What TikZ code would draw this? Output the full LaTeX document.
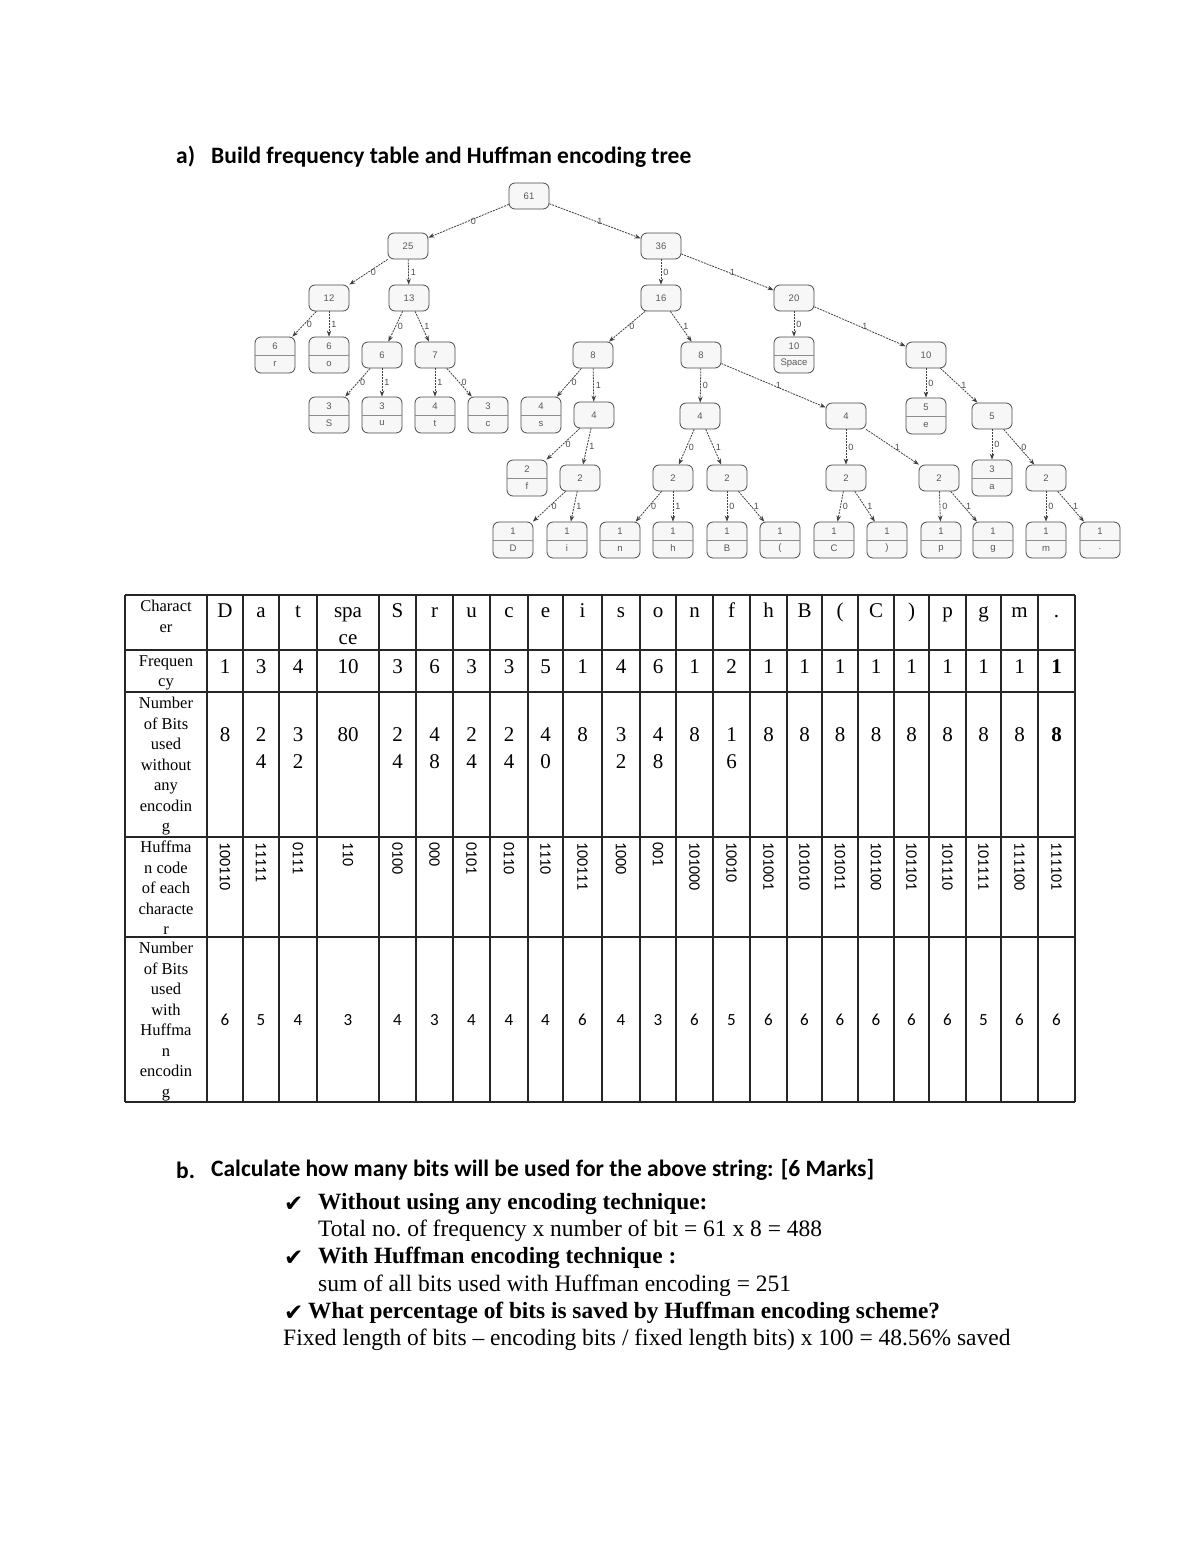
\documentclass[tikz,border=0pt]{standalone}
\usepackage{fontspec}
\setmainfont{Liberation Serif}
\newfontfamily\carlito{Carlito}
\newfontfamily\arialf{Liberation Sans}
\newfontfamily\chkfont{DejaVu Sans}
\usetikzlibrary{arrows.meta}

% leaf of the tree: frequency above, character below
\newcommand{\leafnode}[4]{%
  \node[box, minimum height=36pt] (#1) at (#2) {};
  \draw[divider] (#1.west) -- (#1.east);
  \node[ntxt] at ([yshift=8.5pt]#1.center) {#3};
  \node[ntxt] at ([yshift=-8.5pt]#1.center) {#4};
}
% one column of the table: x, character, frequency, bits, code, bits with code
\newcommand{\tcol}[6]{%
  \node[cell, anchor=north] at (#1,603) {\vphantom{Dd}#2};
  \node[cell] at (#1,667) {#3};
  \node[cell, anchor=north] at (#1,727) {#4};
  \node[code, rotate=-90, anchor=west] at (#1,842) {#5};
  \node[cnum] at (#1,1020) {#6};
}

\begin{document}
\begin{tikzpicture}[
  x=1pt, y=-1pt,
  box/.style={draw=black!70, line width=0.8pt, rounded corners=6pt,
              fill=gray!6, minimum width=40pt, minimum height=26pt, inner sep=0pt,
              font=\arialf\fontsize{9.5}{11}\selectfont, text=black!65},
  divider/.style={draw=black!45, line width=0.7pt},
  ntxt/.style={inner sep=0pt, font=\arialf\fontsize{9.5}{11}\selectfont, text=black!65},
  arr/.style={-{Stealth[length=6pt, width=4.5pt]}, line width=0.8pt, draw=black!75,
              dash pattern=on 2pt off 1pt},
  lbl/.style={inner sep=2pt, font=\arialf\fontsize{9}{10}\selectfont, text=black!70},
  cell/.style={inner sep=0pt, align=center, font=\fontsize{21}{27}\selectfont},
  head/.style={inner sep=0pt, align=center, anchor=north, font=\fontsize{16.5}{20.5}\selectfont},
  code/.style={inner sep=0pt, font=\carlito\fontsize{16}{18}\selectfont},
  cnum/.style={inner sep=0pt, font=\carlito\fontsize{17}{19}\selectfont},
  grid/.style={line width=1.2pt, draw=black!85},
  ttl/.style={inner sep=0pt, anchor=west, font=\carlito\bfseries\fontsize{23.5}{26}\selectfont},
  txt/.style={inner sep=0pt, anchor=west, font=\fontsize{23.5}{26}\selectfont},
  btxt/.style={txt, font=\bfseries\fontsize{23.3}{26}\selectfont},
  chk/.style={inner sep=0pt, anchor=west, font=\chkfont\fontsize{23}{26}\selectfont}
]
  \fill[white] (0,0) rectangle (1200,1553);
  \useasboundingbox (0,0) rectangle (1200,1553);

  % Heading a
  \node[ttl] (ha) at (176,157) {a)};
  \node[ttl] (hat) at (211,157) {Build frequency table and Huffman encoding tree};

  % Tree: inner nodes
  \node[box] (n61) at (529,196) {61};
  \node[box] (n25) at (408,246) {25};
  \node[box] (n36) at (661,246) {36};
  \node[box] (n12) at (329,298) {12};
  \node[box] (n13) at (409,298) {13};
  \node[box] (n16) at (661,298) {16};
  \node[box] (n20) at (794,298) {20};
  \node[box] (n6)  at (382,355) {6};
  \node[box] (n7)  at (435,355) {7};
  \node[box] (n8a) at (593,355) {8};
  \node[box] (n8b) at (701,355) {8};
  \node[box] (n10) at (926,355) {10};
  \node[box] (n4a) at (594,415) {4};
  \node[box] (n4b) at (700,416) {4};
  \node[box] (n4c) at (846,416) {4};
  \node[box] (n5)  at (992,416) {5};
  \node[box] (n2a) at (580,478) {2};
  \node[box] (n2b) at (673,478) {2};
  \node[box] (n2c) at (727,478) {2};
  \node[box] (n2d) at (846,478) {2};
  \node[box] (n2e) at (939,478) {2};
  \node[box] (n2f) at (1046,478) {2};

  % Tree: leaves
  \leafnode{lr}{275,355}{6}{r}
  \leafnode{lo}{329,355}{6}{o}
  \leafnode{lsp}{794,355}{10}{Space}
  \leafnode{lS}{329,415}{3}{S}
  \leafnode{lu}{382,415}{3}{u}
  \leafnode{lt}{435,415}{4}{t}
  \leafnode{lc}{488,415}{3}{c}
  \leafnode{ls}{541,415}{4}{s}
  \leafnode{le}{926,416}{5}{e}
  \leafnode{lf}{527,478}{2}{f}
  \leafnode{la}{992,478}{3}{a}
  \leafnode{lD}{513,540}{1}{D}
  \leafnode{li}{567,540}{1}{i}
  \leafnode{ln}{620,540}{1}{n}
  \leafnode{lh}{673,540}{1}{h}
  \leafnode{lB}{727,540}{1}{B}
  \leafnode{lpo}{780,540}{1}{(}
  \leafnode{lC}{834,540}{1}{C}
  \leafnode{lpc}{887,540}{1}{)}
  \leafnode{lp}{941,540}{1}{p}
  \leafnode{lg}{993,540}{1}{g}
  \leafnode{lm}{1046,540}{1}{m}
  \leafnode{ldot}{1100,540}{1}{.}

  % Tree: edges
  \foreach \a/\b/\d in {n61/n25/0, n61/n36/1, n25/n12/0, n25/n13/1,
      n12/lr/0, n12/lo/1, n13/n6/0, n13/n7/1, n36/n16/0, n36/n20/1,
      n16/n8a/0, n16/n8b/1, n20/lsp/0, n20/n10/1, n6/lS/0, n6/lu/1,
      n7/lt/1, n7/lc/0, n8a/ls/0, n8a/n4a/1, n8b/n4b/0, n8b/n4c/1,
      n10/le/0, n10/n5/1, n4a/lf/0, n4a/n2a/1, n4b/n2b/0, n4b/n2c/1,
      n4c/n2d/0, n4c/n2e/1, n5/la/0, n5/n2f/0, n2a/lD/0, n2a/li/1,
      n2b/ln/0, n2b/lh/1, n2c/lB/0, n2c/lpo/1, n2d/lC/0, n2d/lpc/1,
      n2e/lp/0, n2e/lg/1, n2f/lm/0, n2f/ldot/1}
    \draw[arr] (\a) -- node[lbl, right] {\d} (\b);

  % Table grid
  \foreach \x in {125,207,243,279,317,379,416,453,490,528,563,602,640,
                  676,713,750,787,822,858,894,929,966,1001,1038,1075}
    \draw[grid] (\x,595) -- (\x,1102);
  \foreach \y in {595,650,692,837,937,1102}
    \draw[grid] (125,\y) -- (1075,\y);

  % Table: row heads
  \node[head] (h1) at (166,600) {Charact\\er};
  \node[head] (h2) at (166,655) {Frequen\\cy};
  \node[head] (h3) at (166,697) {Number\\of Bits\\used\\without\\any\\encodin\\g};
  \node[head] (h4) at (166,841) {Huffma\\n code\\of each\\characte\\r};
  \node[head] (h5) at (166,942) {Number\\of Bits\\used\\with\\Huffma\\n\\encodin\\g};

  % Table: columns
  \tcol{225}{D}{1}{8}{100110}{6}
  \tcol{261}{a}{3}{2\\4}{11111}{5}
  \tcol{298}{t}{4}{3\\2}{0111}{4}
  \tcol{348}{spa\\ce}{10}{80}{110}{3}
  \tcol{397.5}{S}{3}{2\\4}{0100}{4}
  \tcol{434.5}{r}{6}{4\\8}{000}{3}
  \tcol{471.5}{u}{3}{2\\4}{0101}{4}
  \tcol{509}{c}{3}{2\\4}{0110}{4}
  \tcol{545.5}{e}{5}{4\\0}{1110}{4}
  \tcol{582.5}{i}{1}{8}{100111}{6}
  \tcol{621}{s}{4}{3\\2}{1000}{4}
  \tcol{658}{o}{6}{4\\8}{001}{3}
  \tcol{694.5}{n}{1}{8}{101000}{6}
  \tcol{731.5}{f}{2}{1\\6}{10010}{5}
  \tcol{768.5}{h}{1}{8}{101001}{6}
  \tcol{804.5}{B}{1}{8}{101010}{6}
  \tcol{840}{(}{1}{8}{101011}{6}
  \tcol{876}{C}{1}{8}{101100}{6}
  \tcol{911.5}{)}{1}{8}{101101}{6}
  \tcol{947.5}{p}{1}{8}{101110}{6}
  \tcol{983.5}{g}{1}{8}{101111}{5}
  \tcol{1019.5}{m}{1}{8}{111100}{6}
  \tcol{1056.5}{.}{\textbf{1}}{\textbf{8}}{111101}{6}

  % Heading b and answers
  \node[ttl] (hb) at (176,1170) {b.};
  \node[ttl] (hbt) at (211,1170) {Calculate how many bits will be used for the above string: [6 Marks]};
  \node[chk] (c1) at (284,1204) {✔};
  \node[btxt] (q1) at (318,1204) {Without using any encoding technique:};
  \node[txt] (a1) at (318,1231) {Total no.\ of frequency x number of bit = 61 x 8 = 488};
  \node[chk] (c2) at (284,1258) {✔};
  \node[btxt] (q2) at (318,1258) {With Huffman encoding technique :};
  \node[txt] (a2) at (318,1286) {sum of all bits used with Huffman encoding = 251};
  \node[chk] (c3) at (284,1313) {✔};
  \node[btxt] (q3) at (308,1313) {What percentage of bits is saved by Huffman encoding scheme?};
  \node[txt] (a3) at (283,1340) {Fixed length of bits – encoding bits / fixed length bits) x 100 = 48.56\% saved};
\end{tikzpicture}
\end{document}
